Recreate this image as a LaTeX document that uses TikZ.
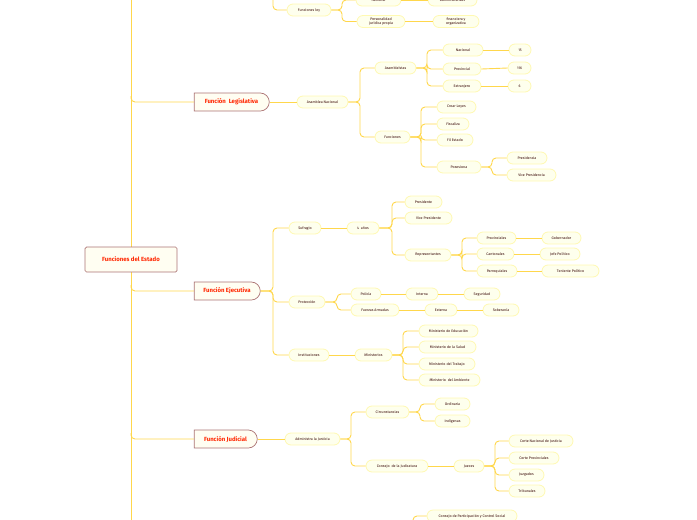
\documentclass[tikz,border=0pt]{standalone}
\usepackage{fontspec}
\setmainfont{Fira Sans}
\usetikzlibrary{shapes.misc}
\begin{document}
\begin{tikzpicture}[x=1pt,y=-1pt,
  leaf/.style={draw=orange!15!yellow!30, line width=0.8pt, fill=green!4!yellow!7, rounded corners=6pt, minimum height=12pt, inner sep=1pt, font=\fontsize{3.6}{4.2}\selectfont, text=black!80!red},
  branch/.style={rounded rectangle, rounded rectangle left arc=none, draw=red!40!black!55, line width=0.7pt, fill=yellow!5, minimum height=18pt, inner sep=2pt, font=\bfseries\fontsize{6}{7}\selectfont, text=red!70!orange},
  rootbox/.style={draw=red!40!black!55, line width=0.7pt, fill=yellow!5, rounded corners=1.5pt, minimum height=25pt, minimum width=92pt, font=\bfseries\fontsize{6}{7}\selectfont, text=red!70!orange},
  cn/.style={draw=orange!45!yellow!70, line width=0.9pt, rounded corners=4pt}]
\useasboundingbox (0,0) rectangle (697,520);
\newcommand\nd[5]{\node[leaf, minimum width=#4pt, align=center] (#1) at (#2,#3) {#5};}
% main trunk
\draw[cn] (131,0) -- (131,520);
\node[rootbox] (root) at (131,259.5) {Funciones del Estado};
% main branches
\node[branch, minimum width=79pt] (leg) at (231.5,102) {Función \ Legislativa};
\node[branch, minimum width=70pt] (eje) at (227,291) {Función Ejecutiva};
\node[branch, minimum width=67pt] (jud) at (225.5,439) {Función Judicial};
\foreach \b in {leg,eje,jud} \draw[cn] (131,0 |- \b.west) ++(0,-6) |- (\b.west);
% top partial branch
\nd{fley}{309}{10}{44}{Funciones ley}
\draw[cn] (273,0) |- (fley.west);
\nd{nac}{378.5}{0}{45}{nacional}
\nd{adm}{452.5}{0}{49}{administrativas}
\nd{pers}{381}{21.5}{48}{Personalidad\\jurídica propia}
\nd{fin}{456}{21.5}{46}{financiera y\\organizativa}
\draw[cn] (fley.east) -- (342,10) |- (nac.west);
\draw[cn] (fley.east) -- (342,10) |- (pers.west);
\draw[cn] (nac.east) -- (adm.west);
\draw[cn] (pers.east) -- (fin.west);
% Legislativa
\nd{an}{322.5}{102}{51}{Asamblea Nacional}
\draw[cn] (leg.east) -- (an.west);
\nd{asm}{395.5}{68}{41}{Asambleístas}
\nd{fun}{392.5}{137}{35}{Funciones}
\foreach \c in {asm,fun} \draw[cn] (an.east) -- (360,102) |- (\c.west);
\nd{nacl}{463}{50}{40}{Nacional}
\nd{prov}{462}{69}{38}{Provincial}
\nd{ext}{462}{86}{38}{Extranjero}
\foreach \c in {nacl,prov,ext} \draw[cn] (asm.east) -- (427,68) |- (\c.west);
\nd{q15}{520}{50}{22}{15}
\nd{q116}{519.5}{68}{23}{116}
\nd{q6}{519.5}{86}{23}{6}
\draw[cn] (nacl.east) -- (q15.west);
\draw[cn] (prov.east) -- (q116.west);
\draw[cn] (ext.east) -- (q6.west);
\nd{crear}{456.5}{107}{39}{Crear Leyes}
\nd{fisc}{453}{124}{32}{Fiscaliza}
\nd{fil}{455}{140}{36}{Fil Estado}
\nd{pos}{459}{167}{44}{Posesiona}
\foreach \c in {crear,fisc,fil,pos} \draw[cn] (fun.east) -- (421,137) |- (\c.west);
\nd{pres1}{527}{158}{40}{Presidencia}
\nd{vpres1}{531.5}{175}{49}{Vice Presidencia}
\foreach \c in {pres1,vpres1} \draw[cn] (pos.east) -- (492,167) |- (\c.west);
% Ejecutiva
\nd{suf}{305}{228}{32}{Sufragio}
\nd{prot}{307}{302}{36}{Protección}
\nd{inst}{309}{355}{40}{Instituciones}
\foreach \c in {suf,prot,inst} \draw[cn] (eje.east) -- (273,291) |- (\c.west);
\nd{anos}{363}{228}{32}{4 \ años}
\draw[cn] (suf.east) -- (anos.west);
\nd{pte}{423.5}{202}{37}{Presidente}
\nd{vpte}{428.5}{218}{47}{Vice Presidente}
\nd{rep}{428}{255}{46}{Representantes}
\foreach \c in {pte,vpte,rep} \draw[cn] (anos.east) -- (392,228) |- (\c.west);
\nd{provs}{496.5}{238}{39}{Provinciales}
\nd{cant}{495.5}{254}{37}{Cantonales}
\nd{parr}{497}{271}{40}{Parroquiales}
\foreach \c in {provs,cant,parr} \draw[cn] (rep.east) -- (462,255) |- (\c.west);
\nd{gob}{561.5}{238}{39}{Gobernador}
\nd{jefe}{560}{254}{40}{Jefe Político}
\nd{ten}{570.5}{271}{57}{Teniente Político}
\draw[cn] (provs.east) -- (gob.west);
\draw[cn] (cant.east) -- (jefe.west);
\draw[cn] (parr.east) -- (ten.west);
\nd{pol}{366}{294}{30}{Policía}
\nd{ffaa}{375}{310}{48}{Fuerzas Armadas}
\foreach \c in {pol,ffaa} \draw[cn] (prot.east) -- (337,302) |- (\c.west);
\nd{int}{422}{294}{32}{Interna}
\nd{seg}{482}{294}{36}{Seguridad}
\nd{ext2}{441}{310}{32}{Externa}
\nd{sob}{501}{310}{36}{Soberanía}
\draw[cn] (pol.east) -- (int.west);
\draw[cn] (int.east) -- (seg.west);
\draw[cn] (ffaa.east) -- (ext2.west);
\draw[cn] (ext2.east) -- (sob.west);
\nd{min}{373.5}{355}{37}{Ministerios}
\draw[cn] (inst.east) -- (min.west);
\nd{m1}{448.5}{331}{59}{Ministerio de Educación}
\nd{m2}{447.5}{347}{57}{Ministerio de la Salud}
\nd{m3}{447}{364}{56}{Ministerio del Trabajo}
\nd{m4}{449.5}{380}{61}{Ministerio \ del Ambiente}
\foreach \c in {m1,m2,m3,m4} \draw[cn] (min.east) -- (403,355) |- (\c.west);
% Judicial
\nd{admj}{312.5}{439}{55}{Administra la Justicia}
\draw[cn] (jud.east) -- (admj.west);
\nd{circ}{387.5}{412}{43}{Circunstancias}
\nd{cj}{397}{466}{62}{Consejo \ de la Judicatura}
\foreach \c in {circ,cj} \draw[cn] (admj.east) -- (351,439) |- (\c.west);
\nd{ord}{452.5}{404}{35}{Ordinaria}
\nd{ind}{452.5}{421}{35}{Indígenas}
\foreach \c in {ord,ind} \draw[cn] (circ.east) -- (420,412) |- (\c.west);
\nd{jue}{469}{466}{30}{Jueces}
\draw[cn] (cj.east) -- (jue.west);
\nd{cnj}{541}{441}{64}{Corte Nacional de Justicia}
\nd{cp}{534}{458}{50}{Corte Provinciales}
\nd{juz}{526.5}{475}{35}{Juzgados}
\nd{tri}{527}{491}{36}{Tribunales}
\foreach \c in {cnj,cp,juz,tri} \draw[cn] (jue.east) -- (495,466) |- (\c.west);
% bottom partial
\nd{cpcs}{472}{516}{90}{Consejo de Participación y Control Social}
\draw[cn] (413,524) |- (cpcs.west);
\end{tikzpicture}
\end{document}
